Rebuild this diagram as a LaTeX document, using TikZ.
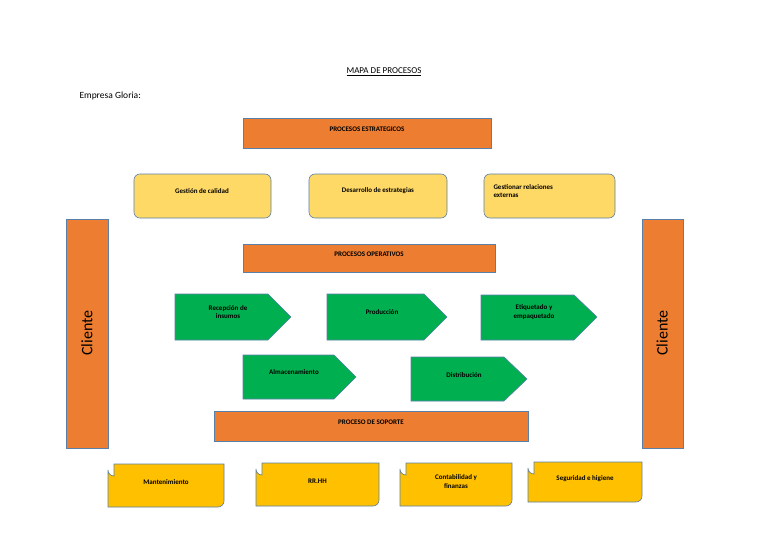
\documentclass[tikz,border=0pt]{standalone}
\usepackage{fontspec}
\setmainfont{Carlito}
\definecolor{org}{HTML}{ED7D31}
\definecolor{yel1}{HTML}{FFD966}
\definecolor{yel2}{HTML}{FFC000}
\definecolor{grn}{HTML}{00B050}
\definecolor{edg}{HTML}{5A7FA8}
\begin{document}
\begin{tikzpicture}[x=1pt,y=-1pt,
  bar/.style={fill=org,draw=edg,line width=0.6pt},
  lbl/.style={font=\fontsize{7}{8.5}\selectfont\bfseries,align=center},
  rbox/.style={fill=yel1,draw=edg,line width=0.6pt,rounded corners=6pt},
  sbox/.style={fill=yel2,draw=edg,line width=0.6pt},
  arr/.style={fill=grn,draw=edg,line width=0.6pt}]
\useasboundingbox (0,0) rectangle (768,543);
\node[font=\fontsize{9}{10}\selectfont] (title) at (384,72) {\underline{MAPA DE PROCESOS}};
\node[font=\fontsize{9.5}{10}\selectfont,anchor=west] (emp) at (76,96) {Empresa Gloria:};
% strategic
\draw[bar] (243,118) rectangle (491,148);
\node[lbl] (pe) at (367,129) {PROCESOS ESTRATEGICOS};
\draw[rbox] (134,174) rectangle (271,218);
\node[lbl] (g1) at (202,191) {Gestión de calidad};
\draw[rbox] (309,174) rectangle (447,218);
\node[lbl] (g2) at (378,191) {Desarrollo de estrategias};
\draw[rbox] (484,174) rectangle (615,218);
\node[lbl,align=left,anchor=west] (g3) at (490,191) {Gestionar relaciones\\externas};
% clientes
\draw[bar] (66,219) rectangle (108,448);
\node[font=\fontsize{16}{16}\selectfont,rotate=90] (c1) at (87,333) {Cliente};
\draw[bar] (642,219) rectangle (683,448);
\node[font=\fontsize{16}{16}\selectfont,rotate=90] (c2) at (662,333) {Cliente};
% operativos
\draw[bar] (243,244) rectangle (495,272);
\node[lbl] (po) at (369,254) {PROCESOS OPERATIVOS};
\draw[arr] (175,294) -- (268,294) -- (291,317) -- (268,340) -- (175,340) -- cycle;
\node[lbl] (a1) at (228,312) {Recepción de\\insumos};
\draw[arr] (327,294) -- (424,294) -- (447,317) -- (424,340) -- (327,340) -- cycle;
\node[lbl] (a2) at (382,312) {Producción};
\draw[arr] (481,295) -- (574,295) -- (597,317) -- (574,340) -- (481,340) -- cycle;
\node[lbl] (a3) at (534,312) {Etiquetado y\\empaquetado};
\draw[arr] (243,355) -- (334,355) -- (356,377) -- (334,399) -- (243,399) -- cycle;
\node[lbl] (a4) at (294,372) {Almacenamiento};
\draw[arr] (411,357) -- (504,357) -- (527,379) -- (504,401) -- (411,401) -- cycle;
\node[lbl] (a5) at (464,375) {Distribución};
% soporte
\draw[bar] (214,411) rectangle (528,441);
\node[lbl] (ps) at (371,422) {PROCESO DE SOPORTE};
\foreach \n/\a/\b/\c/\d/\t in {s1/108/464/224/507/Mantenimiento, s2/256/463/379/506/RR.HH, s3/400/463/512/506/{Contabilidad y\\finanzas}, s4/528/462/642/502/{Seguridad e higiene}}{
  \draw[sbox] (\a+6,\b) -- (\c,\b) -- (\c,\d-6) arc (0:90:6) -- (\a,\d) -- (\a,\b+6) arc (180:90:6) -- cycle;
  \node[lbl] (\n) at ({(\a+\c)/2},{(\b+\d)/2-3}) {\t};
}
\end{tikzpicture}
\end{document}
